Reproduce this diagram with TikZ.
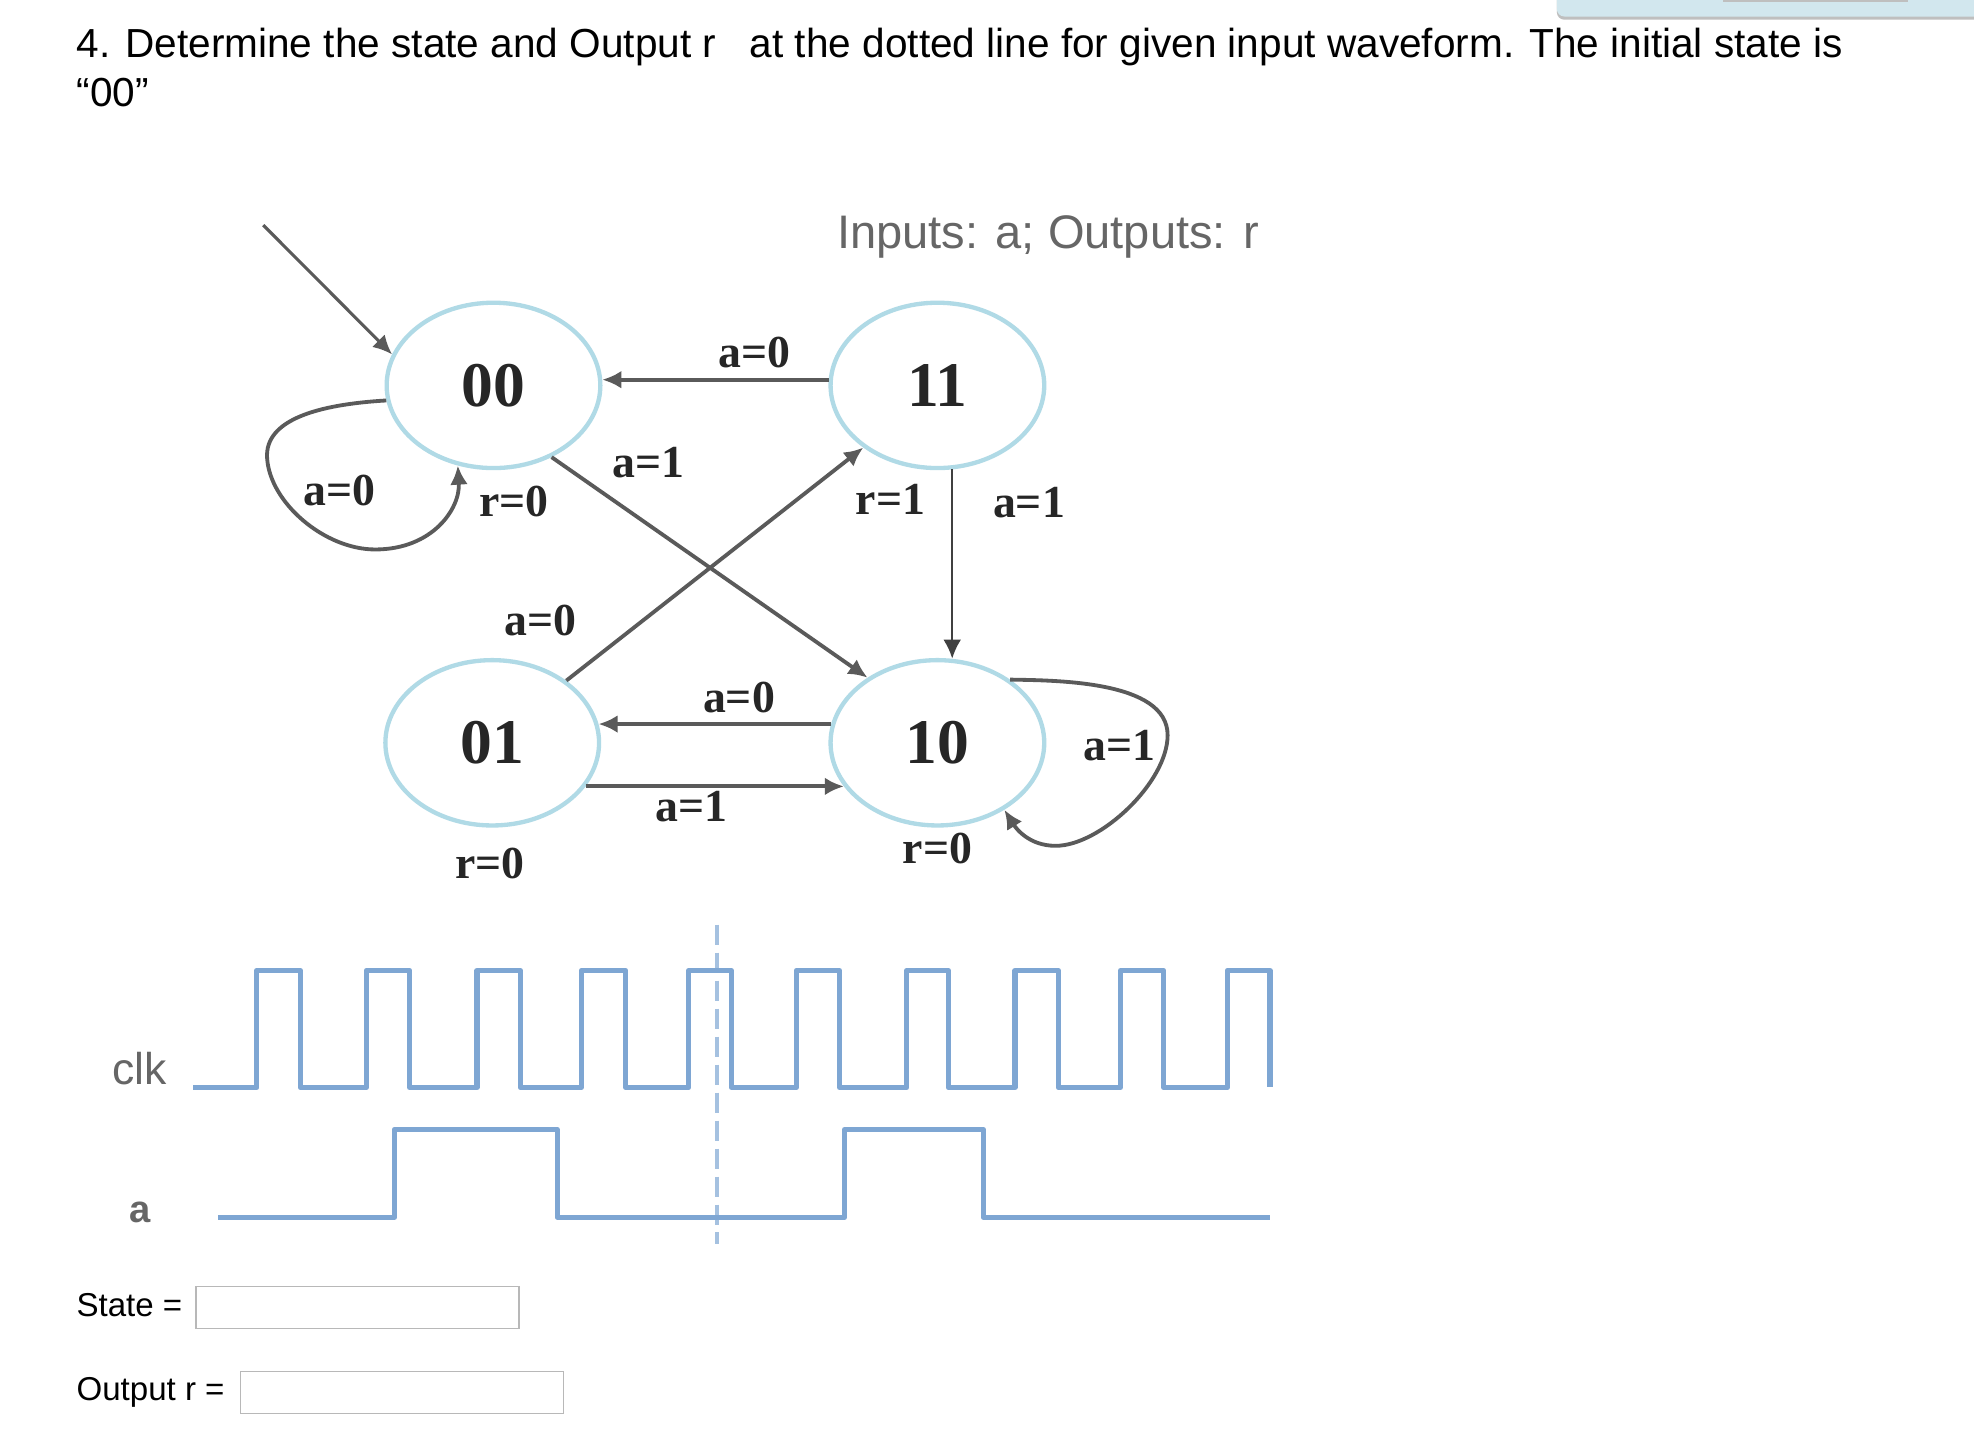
\documentclass[tikz,border=0pt]{standalone}
\usepackage{fontspec}
\setmainfont{Liberation Sans}
\newfontfamily\serifbf[BoldFont={Liberation Serif Bold}]{Liberation Serif}
\usetikzlibrary{shapes.geometric,arrows.meta}
\definecolor{statecol}{HTML}{B0DAE6}
\definecolor{wavecol}{HTML}{7EA6D3}
\definecolor{edgecol}{HTML}{5A5A5A}
\definecolor{panelcol}{HTML}{D2E7EE}
\tikzset{
 statenode/.style={ellipse,draw=statecol,line width=3.4pt,minimum width=168pt,minimum height=130pt,inner sep=0pt,font=\fontsize{50}{50}\selectfont\serifbf\bfseries,text=black!85},
 edgelbl/.style={inner sep=0pt,font=\fontsize{36}{36}\selectfont\serifbf\bfseries,text=black!85},
 conn/.style={draw=edgecol,line width=3pt,-{Latex[length=15pt,width=14pt]}},
 thinconn/.style={draw=black!75,line width=2pt,-{Latex[length=15pt,width=14pt]}},
 wave/.style={draw=wavecol,line width=4pt,line join=round},
 body/.style={anchor=base west,inner sep=0pt,font=\fontsize{31.9}{31.9}\selectfont,text=black},
 small/.style={anchor=base west,inner sep=0pt,font=\fontsize{26}{26}\selectfont,text=black},
 grey/.style={inner sep=0pt,text=black!60},
 answer/.style={draw=black!28,line width=1pt,fill=white,minimum width=254pt,minimum height=33pt,inner sep=0pt,anchor=north west}
}
\begin{document}
\begin{tikzpicture}[x=1pt,y=-1pt]
\useasboundingbox (0,0) rectangle (1552,1124.2);
\fill[white] (0,0) rectangle (1552,1124.2);
% top right panel
\fill[black!25,rounded corners=6pt] (1224,-20) rectangle (1572,15.5);
\fill[panelcol,rounded corners=6pt] (1224,-20) rectangle (1572,13);
\fill[black!25] (1355,0) rectangle (1500,1.5);
% heading
\node[body] (q1) at (60,45) {4. Determine the state and Output r\hspace{0.55em} at the dotted line for given input waveform. The initial state is};
\node[body] (q2) at (60,84) {“00”};
\node[grey,font=\fontsize{37}{37}\selectfont] (io) at (824,186) {Inputs: a; Outputs: r};
% states
\node[statenode] (s00) at (388,303) {00};
\node[statenode] (s11) at (737,303) {11};
\node[statenode] (s01) at (387,584) {01};
\node[statenode] (s10) at (737,584) {10};
\coordinate (init) at (207,177);
% connectors
\draw[conn,line width=2.4pt] (init) -- (s00.163);
\draw[conn] (s11.177) -- (s00.3);
\draw[conn] (s00.-51) -- (s10.137);
\draw[conn] (s01.40.6) -- (s11.220);
\draw[thinconn] (s11.-80) -- (s10.80);
\draw[conn,line width=3.4pt] (s10.170) -- (s01.10);
\draw[conn] (s01.-25.6) -- (s10.205);
\draw[conn] (s00.188) .. controls (250,318) and (208,330) .. (210,360)
  .. controls (212,395) and (255,432) .. (295,432)
  .. controls (340,432) and (362,400) .. (s00.246);
\draw[conn] (s10.41.6) .. controls (830,535) and (918,535) .. (918,578)
  .. controls (918,615) and (865,665) .. (830,665)
  .. controls (808,665) and (798,650) .. (s10.-45.5);
% edge labels
\node[edgelbl] (l1) at (593,277) {a=0};
\node[edgelbl] (l2) at (510,364) {a=1};
\node[edgelbl] (l3) at (267,386) {a=0};
\node[edgelbl] (l4) at (404,394) {r=0};
\node[edgelbl] (l5) at (700,393) {r=1};
\node[edgelbl] (l6) at (809,395) {a=1};
\node[edgelbl] (l7) at (425,488) {a=0};
\node[edgelbl] (l8) at (581,548) {a=0};
\node[edgelbl] (l9) at (544,634) {a=1};
\node[edgelbl] (l10) at (880,586) {a=1};
\node[edgelbl] (l11) at (385,679) {r=0};
\node[edgelbl] (l12) at (737,667) {r=0};
% waveforms
\draw[wavecol!70,line width=3pt,dashed,dash pattern=on 16pt off 6pt] (563.4,727) -- (563.4,978);
\draw[wave] (152,855) -- (202,855) -- (202,763) -- (236,763) -- (236,855)
 -- (288,855) -- (288,763) -- (322,763) -- (322,855)
 -- (375,855) -- (375,763) -- (409,763) -- (409,855)
 -- (457,855) -- (457,763) -- (492,763) -- (492,855)
 -- (541.5,855) -- (541.5,763) -- (575,763) -- (575,855)
 -- (626,855) -- (626,763) -- (660,763) -- (660,855)
 -- (713,855) -- (713,763) -- (745.5,763) -- (745.5,855)
 -- (798,855) -- (798,763) -- (832,763) -- (832,855)
 -- (881,855) -- (881,763) -- (915,763) -- (915,855)
 -- (965,855) -- (965,763) -- (998.5,763) -- (998.5,855);
\draw[wave] (171.5,957) -- (310,957) -- (310,888) -- (438,888) -- (438,957)
 -- (664,957) -- (664,888) -- (773,888) -- (773,957) -- (998.5,957);
\node[grey,font=\fontsize{35}{35}\selectfont] (clk) at (110,840) {clk};
\node[grey,font=\fontsize{30}{30}\selectfont\bfseries] (alab) at (110,953) {a};
% answers
\node[small] (st) at (60,1035) {State =};
\node[answer] (stbox) at (153.5,1011) {};
\node[small] (ou) at (60,1101) {Output r =};
\node[answer] (oubox) at (188.5,1078) {};
\end{tikzpicture}
\end{document}
